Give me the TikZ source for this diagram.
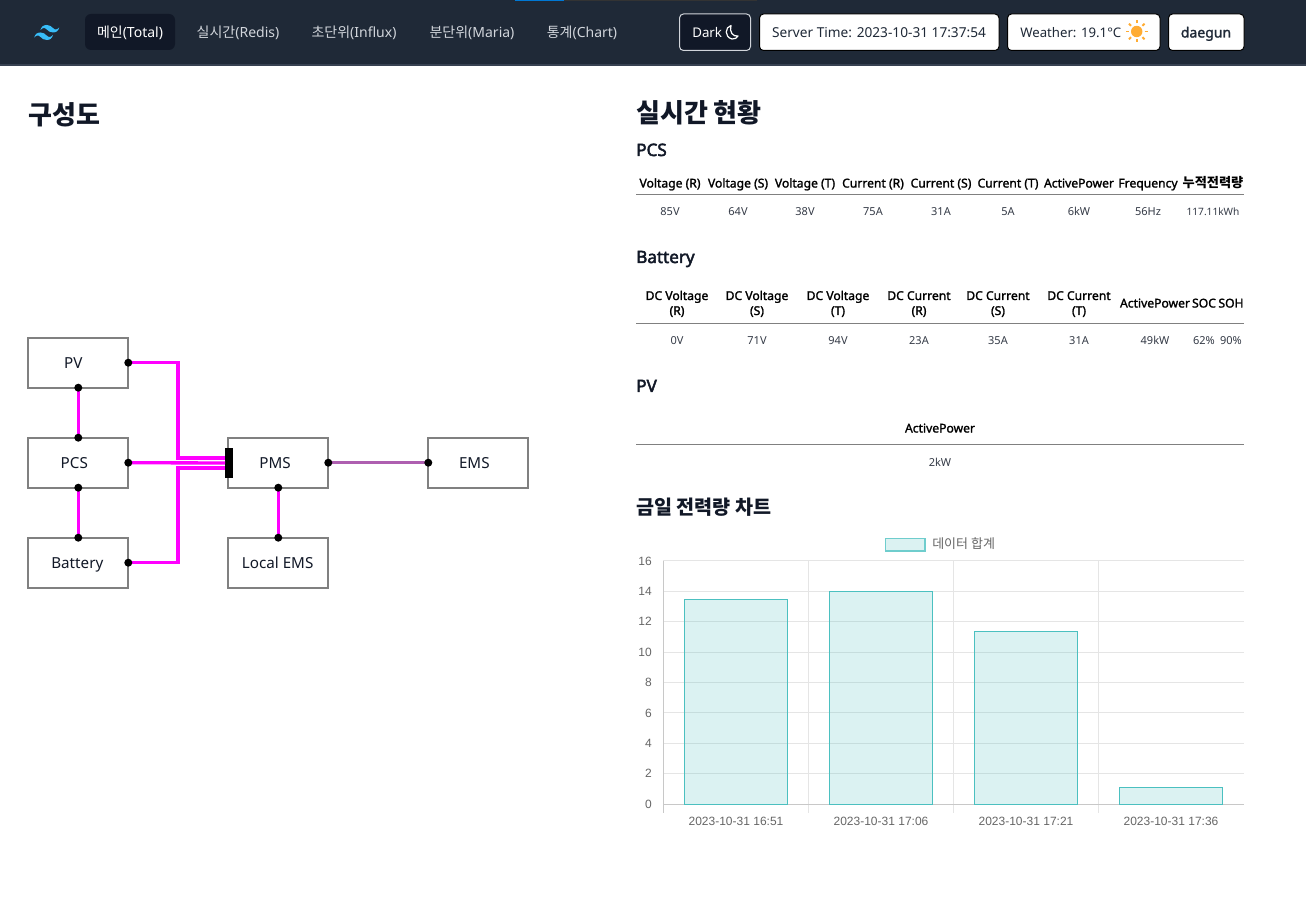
\documentclass[tikz,border=0pt]{standalone}
\usepackage{fontspec}
\setmainfont{Noto Sans}[BoldFont=Noto Sans,BoldFeatures={FakeBold=1.6}]
\newfontfamily\kr{Noto Sans CJK KR}
\newfontfamily\headfont{Noto Sans}[FakeBold=2.6]
\newfontfamily\chartfont{Liberation Sans}
\definecolor{navbg}{HTML}{1F2937}
\definecolor{navline}{HTML}{374151}
\definecolor{navdark}{HTML}{111827}
\definecolor{navtext}{HTML}{D1D5DB}
\definecolor{wiremag}{HTML}{FF00FF}
\definecolor{wirepur}{HTML}{AE5FB0}
\definecolor{boxgray}{HTML}{808080}
\definecolor{gridgray}{HTML}{E5E5E5}
\definecolor{axisgray}{HTML}{C8C8C8}
\definecolor{chartgray}{HTML}{666666}
\definecolor{barfill}{HTML}{4BC0C0}
\definecolor{skylogo}{HTML}{38BDF8}
\definecolor{sunorange}{HTML}{FFAC33}
\definecolor{tabblue}{HTML}{0078D4}
\begin{document}
\begin{tikzpicture}[x=.75pt,y=-.75pt,
  navitem/.style={text=navtext,text height=7.5pt,text depth=0pt,font=\fontsize{10.5}{12}\selectfont},
  navbtn/.style={draw=black,fill=white,rounded corners=3pt,line width=.75pt},
  block/.style={draw=boxgray,line width=1.5pt,minimum width=75pt,minimum height=37.5pt,inner sep=0pt,outer sep=0pt,text height=8pt,text depth=0pt,text=navdark,font=\fontsize{11.4}{13}\selectfont},
  wire/.style={wiremag,line width=2.5pt},
  bighead/.style={anchor=west,inner sep=0pt,text height=13pt,text depth=0pt,text=navdark,font=\kr\bfseries\fontsize{19.5}{21}\selectfont},
  subhead/.style={anchor=west,inner sep=0pt,text height=9pt,text depth=0pt,text=navdark,font=\headfont\fontsize{12.8}{15}\selectfont},
  thead/.style={align=center,inner sep=0pt,text=black,font=\bfseries\fontsize{9.1}{11.25}\selectfont},
  tcell/.style={inner sep=0pt,text height=6pt,text depth=0pt,text=navdark!85,font=\fontsize{8.25}{10}\selectfont},
  rule/.style={boxgray,line width=.75pt},
  ylab/.style={anchor=east,inner sep=0pt,text height=6.5pt,text depth=0pt,text=chartgray,font=\chartfont\fontsize{9}{10}\selectfont},
  xlab/.style={inner sep=0pt,text height=6.5pt,text depth=0pt,text=chartgray,font=\chartfont\fontsize{9}{10}\selectfont}]

\useasboundingbox (0,0) rectangle (1306,905);
\fill[white] (0,0) rectangle (1306,905);

% top bar
\fill[navbg] (0,0) rectangle (1306,64);
\fill[navline] (0,64) rectangle (1306,66);
\fill[tabblue] (515,0) rectangle (564,1);
\fill[black!80] (564,0) rectangle (757,1);
\begin{scope}[shift={(28,25)},x=.347pt,y=-.347pt]
\foreach \s in {0,1}
  \fill[skylogo,shift={(-13.5*\s+13.5,16.2*\s)}] (27,0) .. controls (19.8,0) and (15.3,3.6) .. (13.5,10.8)
    .. controls (16.2,7.2) and (19.35,5.85) .. (22.95,6.75) .. controls (25,7.26) and (26.47,8.75) .. (28.1,10.4)
    .. controls (30.74,13.09) and (33.81,16.2) .. (40.5,16.2) .. controls (47.7,16.2) and (52.2,12.6) .. (54,5.4)
    .. controls (51.3,9) and (48.15,10.35) .. (44.55,9.45) .. controls (42.5,8.94) and (41.03,7.45) .. (39.4,5.8)
    .. controls (36.76,3.11) and (33.69,0) .. (27,0) -- cycle;
\end{scope}
\fill[navdark] (85,14) [rounded corners=4.5pt] rectangle (175,50);
\node[navitem,text=white] (navmain) at (130,33) {{\kr 메인}(Total)};
\node[navitem] (navredis) at (238,33) {{\kr 실시간}(Redis)};
\node[navitem] (navinflux) at (354,33) {{\kr 초단위}(Influx)};
\node[navitem] (navmaria) at (472,33) {{\kr 분단위}(Maria)};
\node[navitem] (navchart) at (582,33) {{\kr 통계}(Chart)};

\draw[navtext,fill=navdark,rounded corners=3pt,line width=.75pt] (679.5,14) rectangle (750.5,50.5);
\node[navitem,text=white,anchor=west,inner sep=0pt,font=\fontsize{10}{12}\selectfont] (btndark) at (692,32.5) {Dark};
\draw[white,line width=.9pt,line join=round] (731,25.5) .. controls (725,27) and (724,37) .. (732,39)
  .. controls (735,39.3) and (737,38) .. (738,36) .. controls (733,37) and (729,32) .. (731,25.5) -- cycle;
\draw[navbtn] (759.5,14) rectangle (999,50.5);
\node[navitem,text=navbg,font=\fontsize{10.25}{12}\selectfont] (btntime) at (879,32.5) {Server Time: 2023-10-31 17:37:54};
\draw[navbtn] (1007.5,14) rectangle (1160,50.5);
\node[navitem,text=navbg,anchor=west,inner sep=0pt,font=\fontsize{9.9}{12}\selectfont] (btnweather) at (1020,32.5) {Weather: 19.1°C};
\fill[sunorange] (1136.7,31.5) circle (5.7);
\foreach \a in {0,45,...,315}
  \draw[sunorange,line width=1.4pt] (1136.7,31.5) ++(\a:8) -- ++(\a:3);
\draw[navbtn] (1168.5,14) rectangle (1244,50.5);
\node[navitem,text=navbg,font=\bfseries\fontsize{10.5}{12}\selectfont] (btnuser) at (1206,32.5) {daegun};

% left side
\node[bighead] (titleleft) at (28,116) {구성도};

\node[block] (pv) at (78.3,362.7) {PV\kern7.5pt};
\node[block] (pcs) at (78.3,462.7) {PCS\kern6pt};
\node[block] (battery) at (78.3,562.7) {Battery\kern1.5pt};
\node[block] (pms) at (278.3,462.7) {PMS\kern5pt};
\node[block] (localems) at (278.3,562.7) {Local EMS\kern1pt};
\node[block] (ems) at (478.3,462.7) {EMS\kern6pt};
\node[fill=black,minimum width=6pt,minimum height=22.5pt,inner sep=0pt,outer sep=0pt] (bus) at (229,463) {};

\coordinate (turn) at (178,463);
\coordinate (busa) at (225,458);
\coordinate (busb) at (225,468);

\draw[wire] (pv.south) -- (pcs.north);
\draw[wire] (pcs.south) -- (battery.north);
\draw[wire] (pms.south) -- (localems.north);
\draw[wire] (pcs.east) -- (bus.west);
\draw[wire] (pv.east) -- (pv.east -| turn) -- (turn |- busa) -- (busa);
\draw[wire] (battery.east) -- (battery.east -| turn) -- (turn |- busb) -- (busb);
\draw[wirepur,line width=2.5pt] (pms.east) -- (ems.west);

\foreach \p in {pv.east,pv.south,pcs.north,pcs.east,pcs.south,battery.north,battery.east,pms.east,pms.south,localems.north,ems.west}
  \fill[black] (\p) circle (4);

% right side
\node[bighead] (titleright) at (636,114) {실시간 현황};

\node[subhead] (headpcs) at (636,150) {PCS};
\foreach \x/\t/\v [count=\i] in {670/Voltage (R)/85V,738/Voltage (S)/64V,805/Voltage (T)/38V,873/Current (R)/75A,941/Current (S)/31A,1008/Current (T)/5A,1079/ActivePower/6kW,1148/Frequency/56Hz,1213/{\kr\fontsize{9.9}{11}\selectfont 누적전력량}/{\fontsize{7.6}{10}\selectfont 117.11kWh}}{
  \node[thead] (pcshead\i) at (\x,184.5) {\strut\t};
  \node[tcell] (pcsval\i) at (\x,212) {\v};
}
\draw[rule] (636,194.5) -- (1244,194.5);

\node[subhead] (headbat) at (636,257) {Battery};
\foreach \x/\t/\v [count=\i] in {677/DC Voltage\\(R)/0V,757/DC Voltage\\(S)/71V,838/DC Voltage\\(T)/94V,919/DC Current\\(R)/23A,998/DC Current\\(S)/35A,1079/DC Current\\(T)/31A,1155/ActivePower/49kW,1204/SOC/62\%,1231/SOH/90\%}{
  \node[thead] (bathead\i) at (\x,304.5) {\strut\t\strut};
  \node[tcell] (batval\i) at (\x,341) {\v};
}
\draw[rule] (636,323.5) -- (1244,323.5);

\node[subhead] (headpv) at (636,386) {PV};
\node[thead] (pvhead) at (940,429.5) {\strut ActivePower};
\node[tcell] (pvval) at (940,462) {2kW};
\draw[rule] (636,444.5) -- (1244,444.5);

\node[subhead,font=\kr\bfseries\fontsize{14.7}{16}\selectfont] (headchart) at (636,508) {금일 전력량 차트};

% chart
\pgfmathsetmacro{\zeroy}{804}
\pgfmathsetmacro{\stepy}{30.4}
\foreach \v in {2,4,...,16}
  \draw[gridgray,line width=.75pt] (663,\zeroy-\v*\stepy/2) -- (1244,\zeroy-\v*\stepy/2);
\foreach \x in {808.5,953.5,1098.5}
  \draw[gridgray,line width=.75pt] (\x,561) -- (\x,813);
\draw[axisgray,line width=.75pt] (663.5,561) -- (663.5,813);
\draw[axisgray,line width=.75pt] (663,\zeroy) -- (1244,\zeroy);

\foreach \x/\h in {684/13.47,829/14,974/11.37,1119/1.1}
  \draw[barfill,fill=barfill,fill opacity=.2,line width=.75pt] (\x,\zeroy) rectangle (\x+103.5,\zeroy-\h*\stepy/2);

\foreach \v in {0,2,...,16}
  \node[ylab] (ylab\v) at (652,\zeroy-\v*\stepy/2) {\v};
\foreach \x/\t [count=\i] in {736/16:51,881/17:06,1026/17:21,1171/17:36}
  \node[xlab] (xlab\i) at (\x,821) {2023-10-31 \t};

\draw[barfill!80,fill=barfill,fill opacity=.2,line width=1.2pt] (885.5,538.5) rectangle (925,551);
\node[xlab,anchor=west,font=\kr\fontsize{9.75}{11}\selectfont] (legendtext) at (932,544.5) {데이터 합계};

\end{tikzpicture}
\end{document}
